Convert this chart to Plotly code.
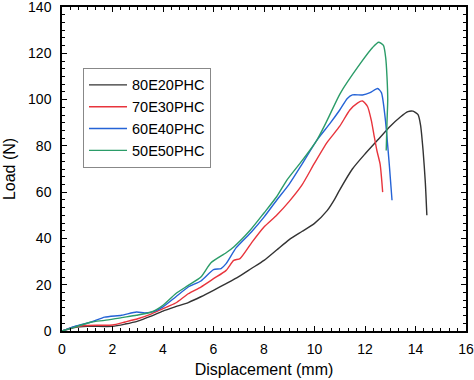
import plotly.graph_objects as go

# 80E20PHC
x_80 = [0, 0.5, 1, 2, 2.5, 3, 3.5, 4, 4.5, 5, 5.5, 6, 6.5, 7, 7.5, 8, 8.5, 9, 9.5, 10,
        10.5, 10.8, 11, 11.5, 12, 12.5, 13, 13.4, 13.7, 13.9, 14.1, 14.2, 14.3, 14.39, 14.45]
y_80 = [0, 1.5, 2.0, 2.0, 3.0, 4.3, 6.3, 8.6, 10.5, 12.3, 14.8, 17.6, 20.5, 23.5, 27, 30.5, 35, 39.5, 43, 46.5,
        52, 57, 61, 70, 76.5, 82.5, 88.5, 92.5, 94.8, 95, 93.5, 89, 78, 64, 50]

# 70E30PHC
x_70 = [0, 0.44, 1, 1.5, 2, 2.5, 3, 3.5, 4, 4.5, 5, 5.5, 6, 6.5, 6.8, 7.05, 7.5, 8, 8.5, 9, 9.5,
        10, 10.5, 11, 11.4, 11.7, 11.9, 12.1, 12.25, 12.35, 12.47, 12.6, 12.7]
y_70 = [0, 1.7, 2.4, 2.5, 2.6, 3.9, 5.3, 7.2, 9.7, 12.1, 16.1, 19, 22.6, 26.2, 30.5, 31.3, 38, 44.9, 50, 56, 63,
        72.5, 81.5, 88.5, 95.5, 98.5, 99.4, 97, 91, 85, 78, 72, 60]

# 60E40PHC
x_60 = [0, 0.5, 1.17, 1.69, 2.36, 2.95, 3.28, 3.68, 4, 4.5, 5, 5.5, 6, 6.3, 6.5, 6.9, 7.5, 8, 8.5, 9, 9.5,
        10.09, 10.6, 11.0, 11.3, 11.5, 11.9, 12.2, 12.5, 12.65, 12.8, 12.9, 12.97, 13.07]
y_60 = [0, 2.0, 3.9, 6.0, 6.8, 8.2, 7.8, 8.6, 10.4, 14.7, 19, 21.6, 26.5, 27, 29.1, 36, 42.8, 49.2, 56.5, 63.5, 72,
        82.4, 89.5, 95.5, 100.5, 102, 102, 103, 104.8, 103, 92, 80, 70.8, 56.5]

# 50E50PHC
x_50 = [0, 0.5, 1.17, 1.69, 2.36, 2.95, 3.55, 4, 4.5, 5, 5.5, 5.9, 6.5, 6.8, 7.45, 8.0, 8.5, 8.9, 9.5,
        10.09, 10.5, 11.01, 11.81, 12.3, 12.54, 12.73, 12.82, 12.87, 12.9, 12.87, 12.84]
y_50 = [0, 1.7, 3.9, 4.6, 5.8, 6.8, 8.2, 11.1, 16.1, 19.7, 23.3, 29.5, 33.8, 36.3, 43.5, 51, 58, 65.1, 73.5,
        82.4, 91, 102.5, 115.5, 122.5, 124.8, 123.4, 118, 110, 100, 90, 78]

series = [
    ("80E20PHC", x_80, y_80, "#333333"),
    ("70E30PHC", x_70, y_70, "#e8343c"),
    ("60E40PHC", x_60, y_60, "#2563d6"),
    ("50E50PHC", x_50, y_50, "#2b9c68"),
]

x_ticks = [0, 2, 4, 6, 8, 10, 12, 14, 16]
y_ticks = [0, 20, 40, 60, 80, 100, 120, 140]

fig = go.Figure()
for name, xs, ys, col in series:
    fig.add_trace(go.Scatter(x=xs, y=ys, mode="lines", name=name,
                             line=dict(color=col, width=1.4, shape="spline", smoothing=0.6)))

font_family = "Liberation Sans, Arial, sans-serif"
axis_common = dict(
    showline=True, linecolor="black", linewidth=1.5, mirror="ticks",
    ticks="inside", ticklen=5, tickwidth=1.3, tickcolor="black",
    showgrid=False, zeroline=False, automargin=False,
    ticklabeloverflow="allow",
    tickfont=dict(family=font_family, size=14, color="black"),
)

fig.update_xaxes(range=[0, 16], tickvals=x_ticks, ticktext=[str(v) for v in x_ticks],
                 minor=dict(ticks="inside", ticklen=3, tickwidth=1, tickcolor="black", dtick=2/6, tick0=0),
                 title=dict(text="Displacement (mm)", font=dict(family=font_family, size=16, color="black"),
                            standoff=8),
                 ticklabelstandoff=4,
                 **axis_common)
fig.update_yaxes(range=[0, 140], tickvals=y_ticks, ticktext=[str(v) for v in y_ticks],
                 minor=dict(ticks="inside", ticklen=3, tickwidth=1, tickcolor="black", dtick=20/6, tick0=0),
                 title=dict(text="Load (N)", font=dict(family=font_family, size=16, color="black"),
                            standoff=8),
                 ticklabelstandoff=6,
                 **axis_common)

fig.update_layout(
    width=474, height=380,
    margin=dict(l=62, r=8, t=7, b=49),
    paper_bgcolor="white", plot_bgcolor="white",
    showlegend=True,
    legend=dict(x=0.052, y=0.812, xanchor="left", yanchor="top",
                bordercolor="#888888", borderwidth=1, bgcolor="white",
                font=dict(family=font_family, size=14.5, color="black"),
                tracegroupgap=0, itemwidth=38),
)

fig.write_html("out.html", config={"displayModeBar": False},
               post_script="document.body.style.margin='0px';")
